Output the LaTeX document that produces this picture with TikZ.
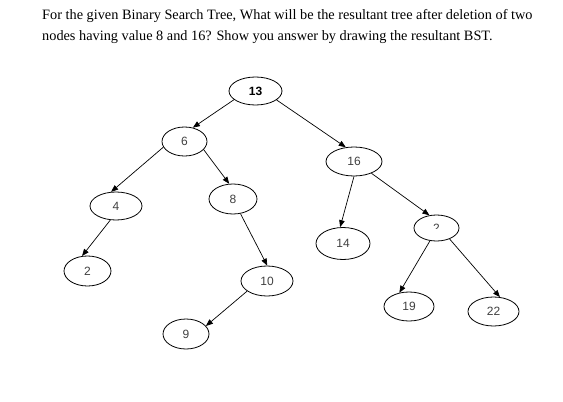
\documentclass[tikz,border=0pt]{standalone}
\usepackage{fontspec}
\setmainfont{Liberation Serif}
\newfontfamily\arialf{Liberation Sans}
\usetikzlibrary{arrows.meta,shapes.geometric}
\begin{document}
\begin{tikzpicture}[x=1pt,y=-1pt,
  bst/.style={draw, ellipse, inner sep=0pt, line width=0.8pt, font=\arialf\fontsize{12}{12}\selectfont, text=black!75},
  edge/.style={line width=0.7pt, -{Triangle[length=7pt,width=5.5pt]}},
  title/.style={anchor=base west, inner sep=0pt, font=\fontsize{14.3}{14.3}\selectfont}]
\useasboundingbox[fill=white] (0,0) rectangle (563,402);
\node[title] (l1) at (42,19.5) {For the given Binary Search Tree, What will be the resultant tree after deletion of two};
\node[title] (l2) at (42,40) {nodes having value 8 and 16? Show you answer by drawing the resultant BST.};

\node[bst, minimum width=53pt, minimum height=28pt, text=black] (n13) at (255.5,91) {\textbf{13}};
\node[bst, minimum width=45pt, minimum height=29pt] (n6) at (184.5,141.5) {6};
\node[bst, minimum width=56pt, minimum height=29pt] (n16) at (354,161.5) {16};
\node[bst, minimum width=48pt, minimum height=30pt] (n8) at (233,199) {8};
\node[bst, minimum width=52pt, minimum height=28pt] (n4) at (116,206) {4};
\node[bst, minimum width=47pt, minimum height=30pt] (n2) at (87.5,271) {2};
\node[bst, minimum width=54pt, minimum height=32pt] (n14) at (343,243.5) {14};
\node[bst, minimum width=45pt, minimum height=26pt] (nr2) at (436.5,228) {};
\begin{scope}
\clip (420,210) rectangle (455,228.5);
\node[bst, draw=none] (tr2) at (nr2.center) {2};
\end{scope}
\node[bst, minimum width=52pt, minimum height=30pt] (n10) at (267,281) {10};
\node[bst, minimum width=46pt, minimum height=30pt] (n9) at (186,334) {9};
\node[bst, minimum width=50pt, minimum height=29pt] (n19) at (409,306.5) {19};
\node[bst, minimum width=51pt, minimum height=29pt] (n22) at (493.5,311.5) {22};

\draw[edge] (n13.202) -- (n6.59);
\draw[edge] (n13.337) -- (n16.120);
\draw[edge] (n6.195) -- (n4.109);
\draw[edge] (n6.337) -- (n8.104);
\draw[edge] (n4.248) -- (n2.110);
\draw[edge] (n8.297) -- (n10.89);
\draw[edge] (n10.207) -- (n9.22);
\draw[edge] (n16.270) -- (n14.100);
\draw[edge] (n16.326) -- (nr2.119);
\draw[edge] (nr2.243) -- (n19.125);
\draw[edge] (nr2.320) -- (n22.66);
\end{tikzpicture}
\end{document}
